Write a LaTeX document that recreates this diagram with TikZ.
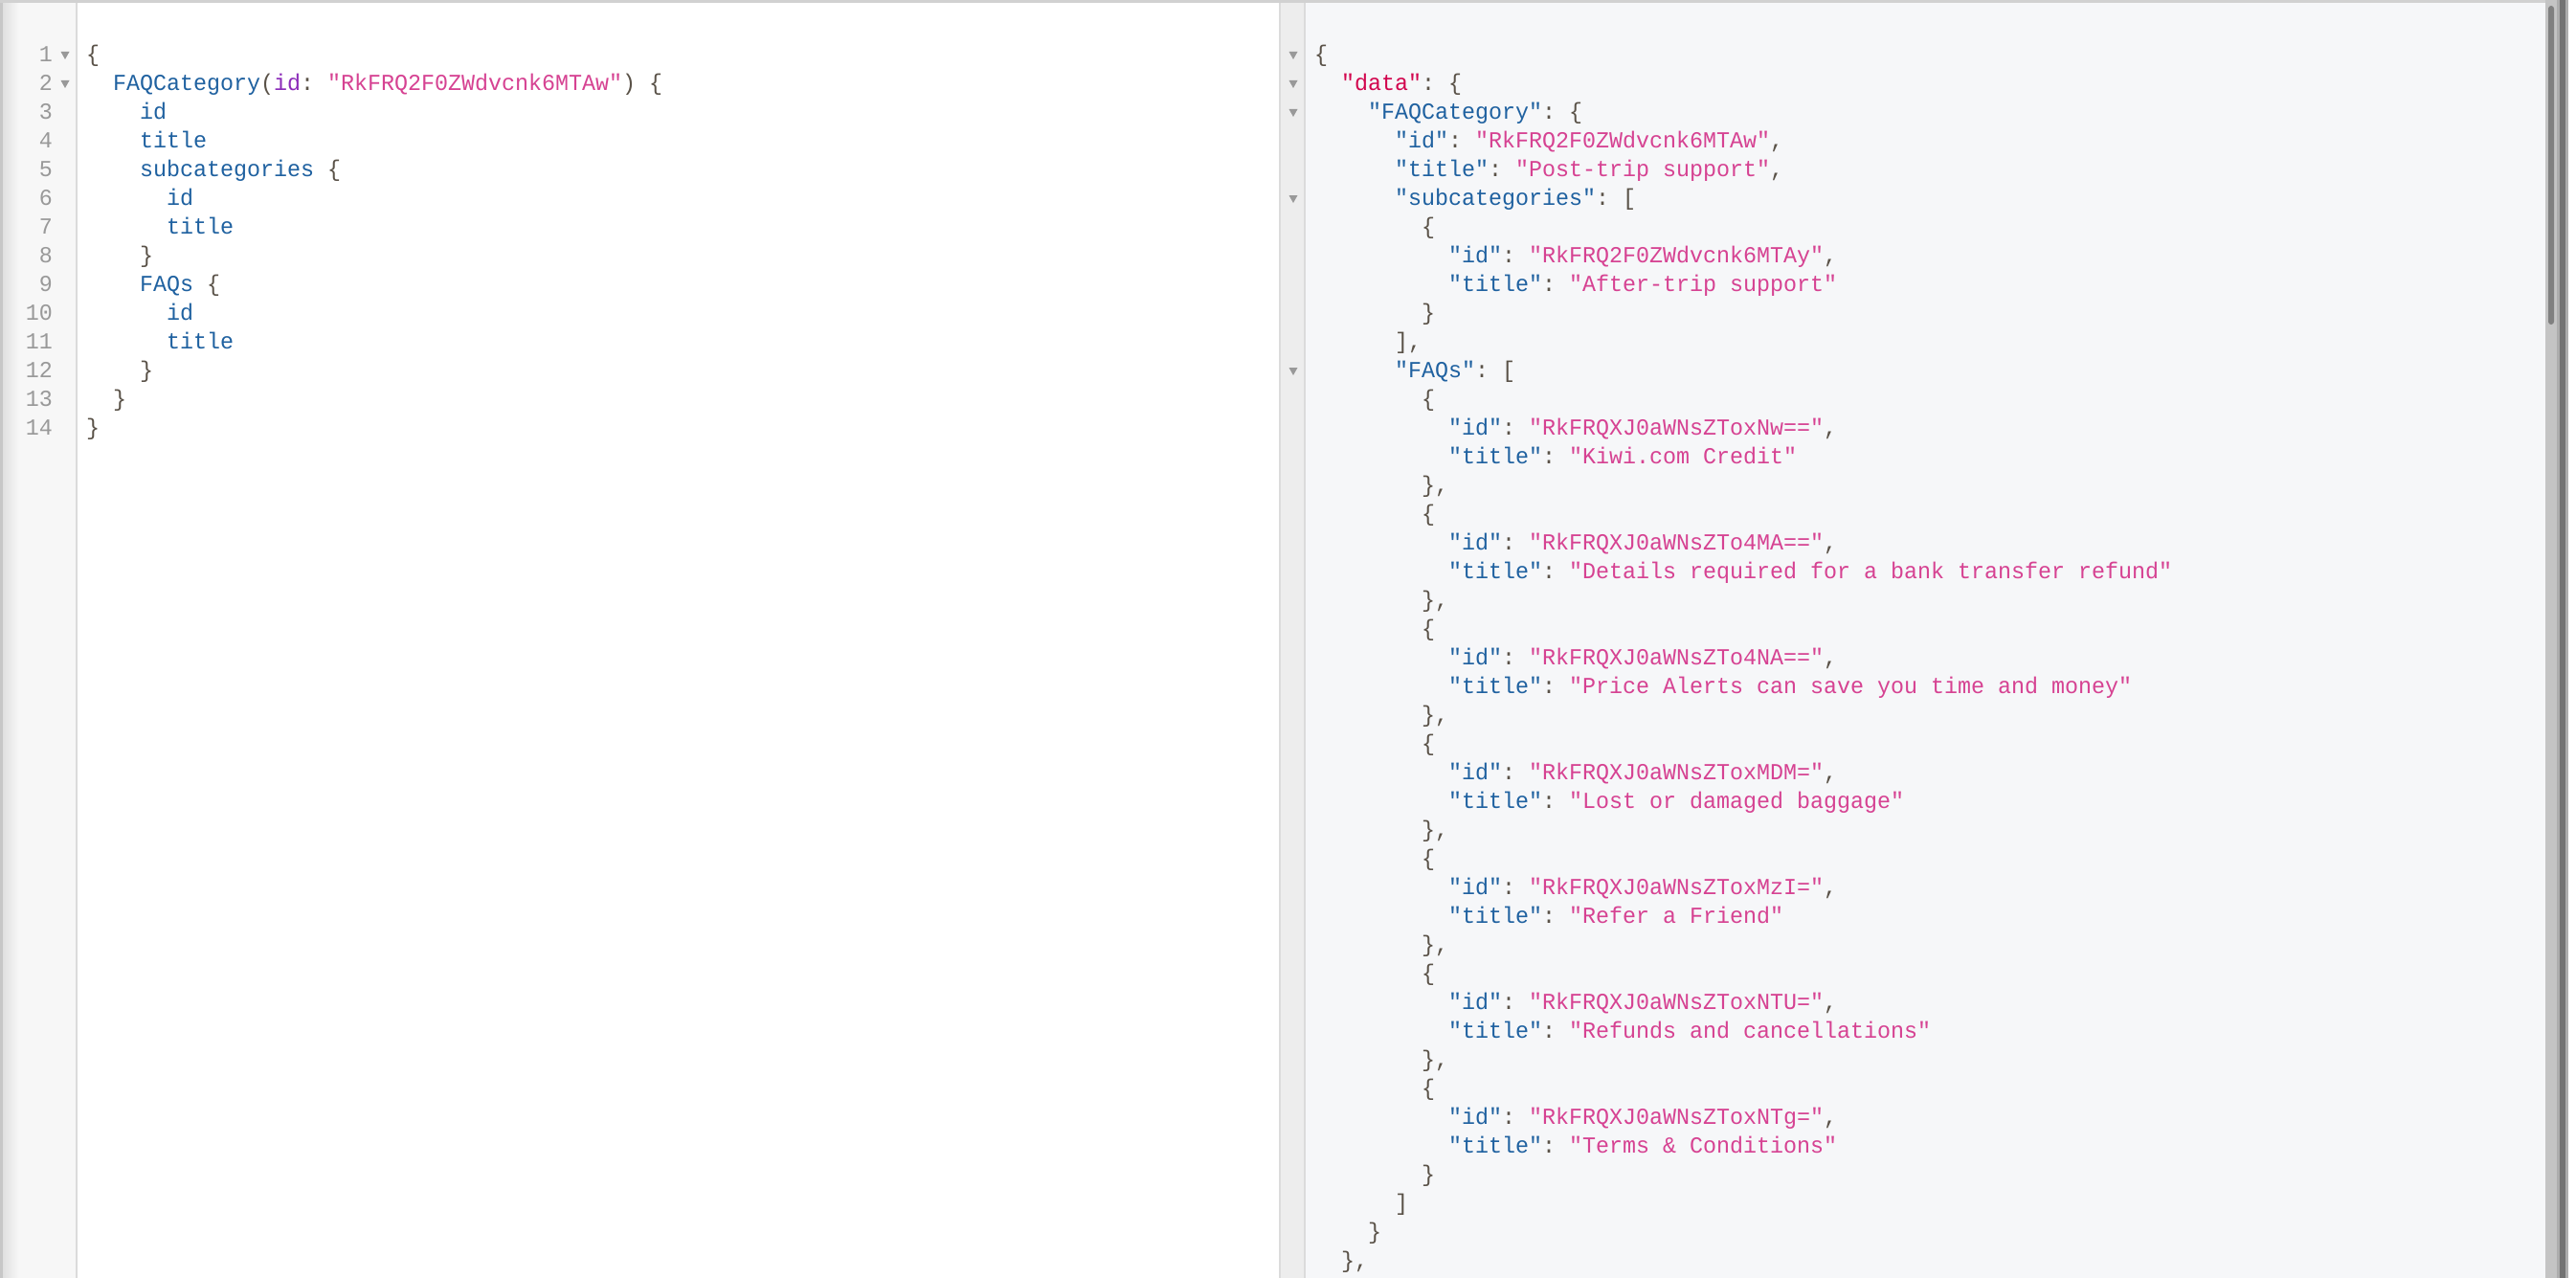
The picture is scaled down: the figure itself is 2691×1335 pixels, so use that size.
\documentclass[tikz,border=0pt]{standalone}
\usepackage{fontspec}
\newfontfamily\codefont[FakeStretch=.972]{Liberation Mono}
\definecolor{keyblue}{HTML}{1F61A0}
\definecolor{strpink}{HTML}{D64292}
\definecolor{punct}{HTML}{5A5248}
\definecolor{argviolet}{HTML}{8B2BB9}
\definecolor{defred}{HTML}{D2054E}
\definecolor{numgrey}{HTML}{999999}
\definecolor{paneltint}{HTML}{F6F7F9}
\newcommand{\kn}[1]{\textcolor{keyblue}{#1}}
\newcommand{\sv}[1]{\textcolor{strpink}{#1}}
\tikzset{
    codeline/.style={anchor=base west, inner sep=0pt, text=punct, font=\codefont\fontsize{24}{30}\selectfont\frenchspacing},
    linenum/.style={anchor=base east, inner sep=0pt, text=numgrey, font=\codefont\fontsize{24}{30}\selectfont},
    foldmark/.style={fill=black!40, draw=none},
}
\begin{document}
\begin{tikzpicture}[x=1pt, y=-1pt]
    \useasboundingbox (0,0) rectangle (2691,1335);

    % panels
    \fill[white] (0,0) rectangle (2691,1335);
    \fill[black!3] (3,0) rectangle (80,1335);
    \shade[left color=black!12, right color=black!3] (3,0) rectangle (20,1335);
    \fill[black!22] (0,0) rectangle (3,1335);
    \draw[line width=1.5pt,black!14] (80,0) -- (80,1335);
    \fill[black!7] (1337,0) rectangle (1363,1335);
    \draw[line width=1.5pt,black!14] (1337,0) -- (1337,1335);
    \draw[line width=1.5pt,black!14] (1363,0) -- (1363,1335);
    \fill[paneltint] (1364,0) rectangle (2659,1335);
    \fill[black!18] (0,0) rectangle (2683,3);

    % scrollbar
    \fill[black!23] (2659,0) rectangle (2671,1335);
    \fill[black!50,rounded corners=3pt] (2662,6) rectangle (2668,339);
    \fill[black!32] (2671,0) rectangle (2683,1335);
    \fill[black!55] (2674,0) rectangle (2680,1335);

    % left side
    \foreach \i/\ind/\txt in {
        1/0/{\{},
        2/2/{\kn{FAQCategory}(\textcolor{argviolet}{id}: \sv{"RkFRQ2F0ZWdvcnk6MTAw"}) \{},
        3/4/{\kn{id}},
        4/4/{\kn{title}},
        5/4/{\kn{subcategories} \{},
        6/6/{\kn{id}},
        7/6/{\kn{title}},
        8/4/{\}},
        9/4/{\kn{FAQs} \{},
        10/6/{\kn{id}},
        11/6/{\kn{title}},
        12/4/{\}},
        13/2/{\}},
        14/0/{\}}} {
        \node[linenum] (num\i) at (55,34.5+30*\i) {\i};
        \node[codeline] (query\i) at (90+14*\ind,34.5+30*\i) {\txt};
    }
    \foreach \i in {1,2} {
        \fill[foldmark] (63.5,24+30*\i) -- (72.5,24+30*\i) -- (68,32+30*\i) -- cycle;
    }

    % right side
    \foreach \i/\ind/\txt in {
        1/0/{\{},
        2/2/{\textcolor{defred}{"data"}: \{},
        3/4/{\kn{"FAQCategory"}: \{},
        4/6/{\kn{"id"}: \sv{"RkFRQ2F0ZWdvcnk6MTAw"},},
        5/6/{\kn{"title"}: \sv{"Post-trip support"},},
        6/6/{\kn{"subcategories"}: [},
        7/8/{\{},
        8/10/{\kn{"id"}: \sv{"RkFRQ2F0ZWdvcnk6MTAy"},},
        9/10/{\kn{"title"}: \sv{"After-trip support"}},
        10/8/{\}},
        11/6/{],},
        12/6/{\kn{"FAQs"}: [},
        13/8/{\{},
        14/10/{\kn{"id"}: \sv{"RkFRQXJ0aWNsZToxNw=="},},
        15/10/{\kn{"title"}: \sv{"Kiwi.com Credit"}},
        16/8/{\},},
        17/8/{\{},
        18/10/{\kn{"id"}: \sv{"RkFRQXJ0aWNsZTo4MA=="},},
        19/10/{\kn{"title"}: \sv{"Details required for a bank transfer refund"}},
        20/8/{\},},
        21/8/{\{},
        22/10/{\kn{"id"}: \sv{"RkFRQXJ0aWNsZTo4NA=="},},
        23/10/{\kn{"title"}: \sv{"Price Alerts can save you time and money"}},
        24/8/{\},},
        25/8/{\{},
        26/10/{\kn{"id"}: \sv{"RkFRQXJ0aWNsZToxMDM="},},
        27/10/{\kn{"title"}: \sv{"Lost or damaged baggage"}},
        28/8/{\},},
        29/8/{\{},
        30/10/{\kn{"id"}: \sv{"RkFRQXJ0aWNsZToxMzI="},},
        31/10/{\kn{"title"}: \sv{"Refer a Friend"}},
        32/8/{\},},
        33/8/{\{},
        34/10/{\kn{"id"}: \sv{"RkFRQXJ0aWNsZToxNTU="},},
        35/10/{\kn{"title"}: \sv{"Refunds and cancellations"}},
        36/8/{\},},
        37/8/{\{},
        38/10/{\kn{"id"}: \sv{"RkFRQXJ0aWNsZToxNTg="},},
        39/10/{\kn{"title"}: \sv{"Terms \& Conditions"}},
        40/8/{\}},
        41/6/{]},
        42/4/{\}},
        43/2/{\},}} {
        \node[codeline] (result\i) at (1373+14*\ind,34.5+30*\i) {\txt};
    }
    \foreach \i in {1,2,3,6,12} {
        \fill[foldmark] (1346.5,24+30*\i) -- (1355.5,24+30*\i) -- (1351,32+30*\i) -- cycle;
    }
\end{tikzpicture}
\end{document}
